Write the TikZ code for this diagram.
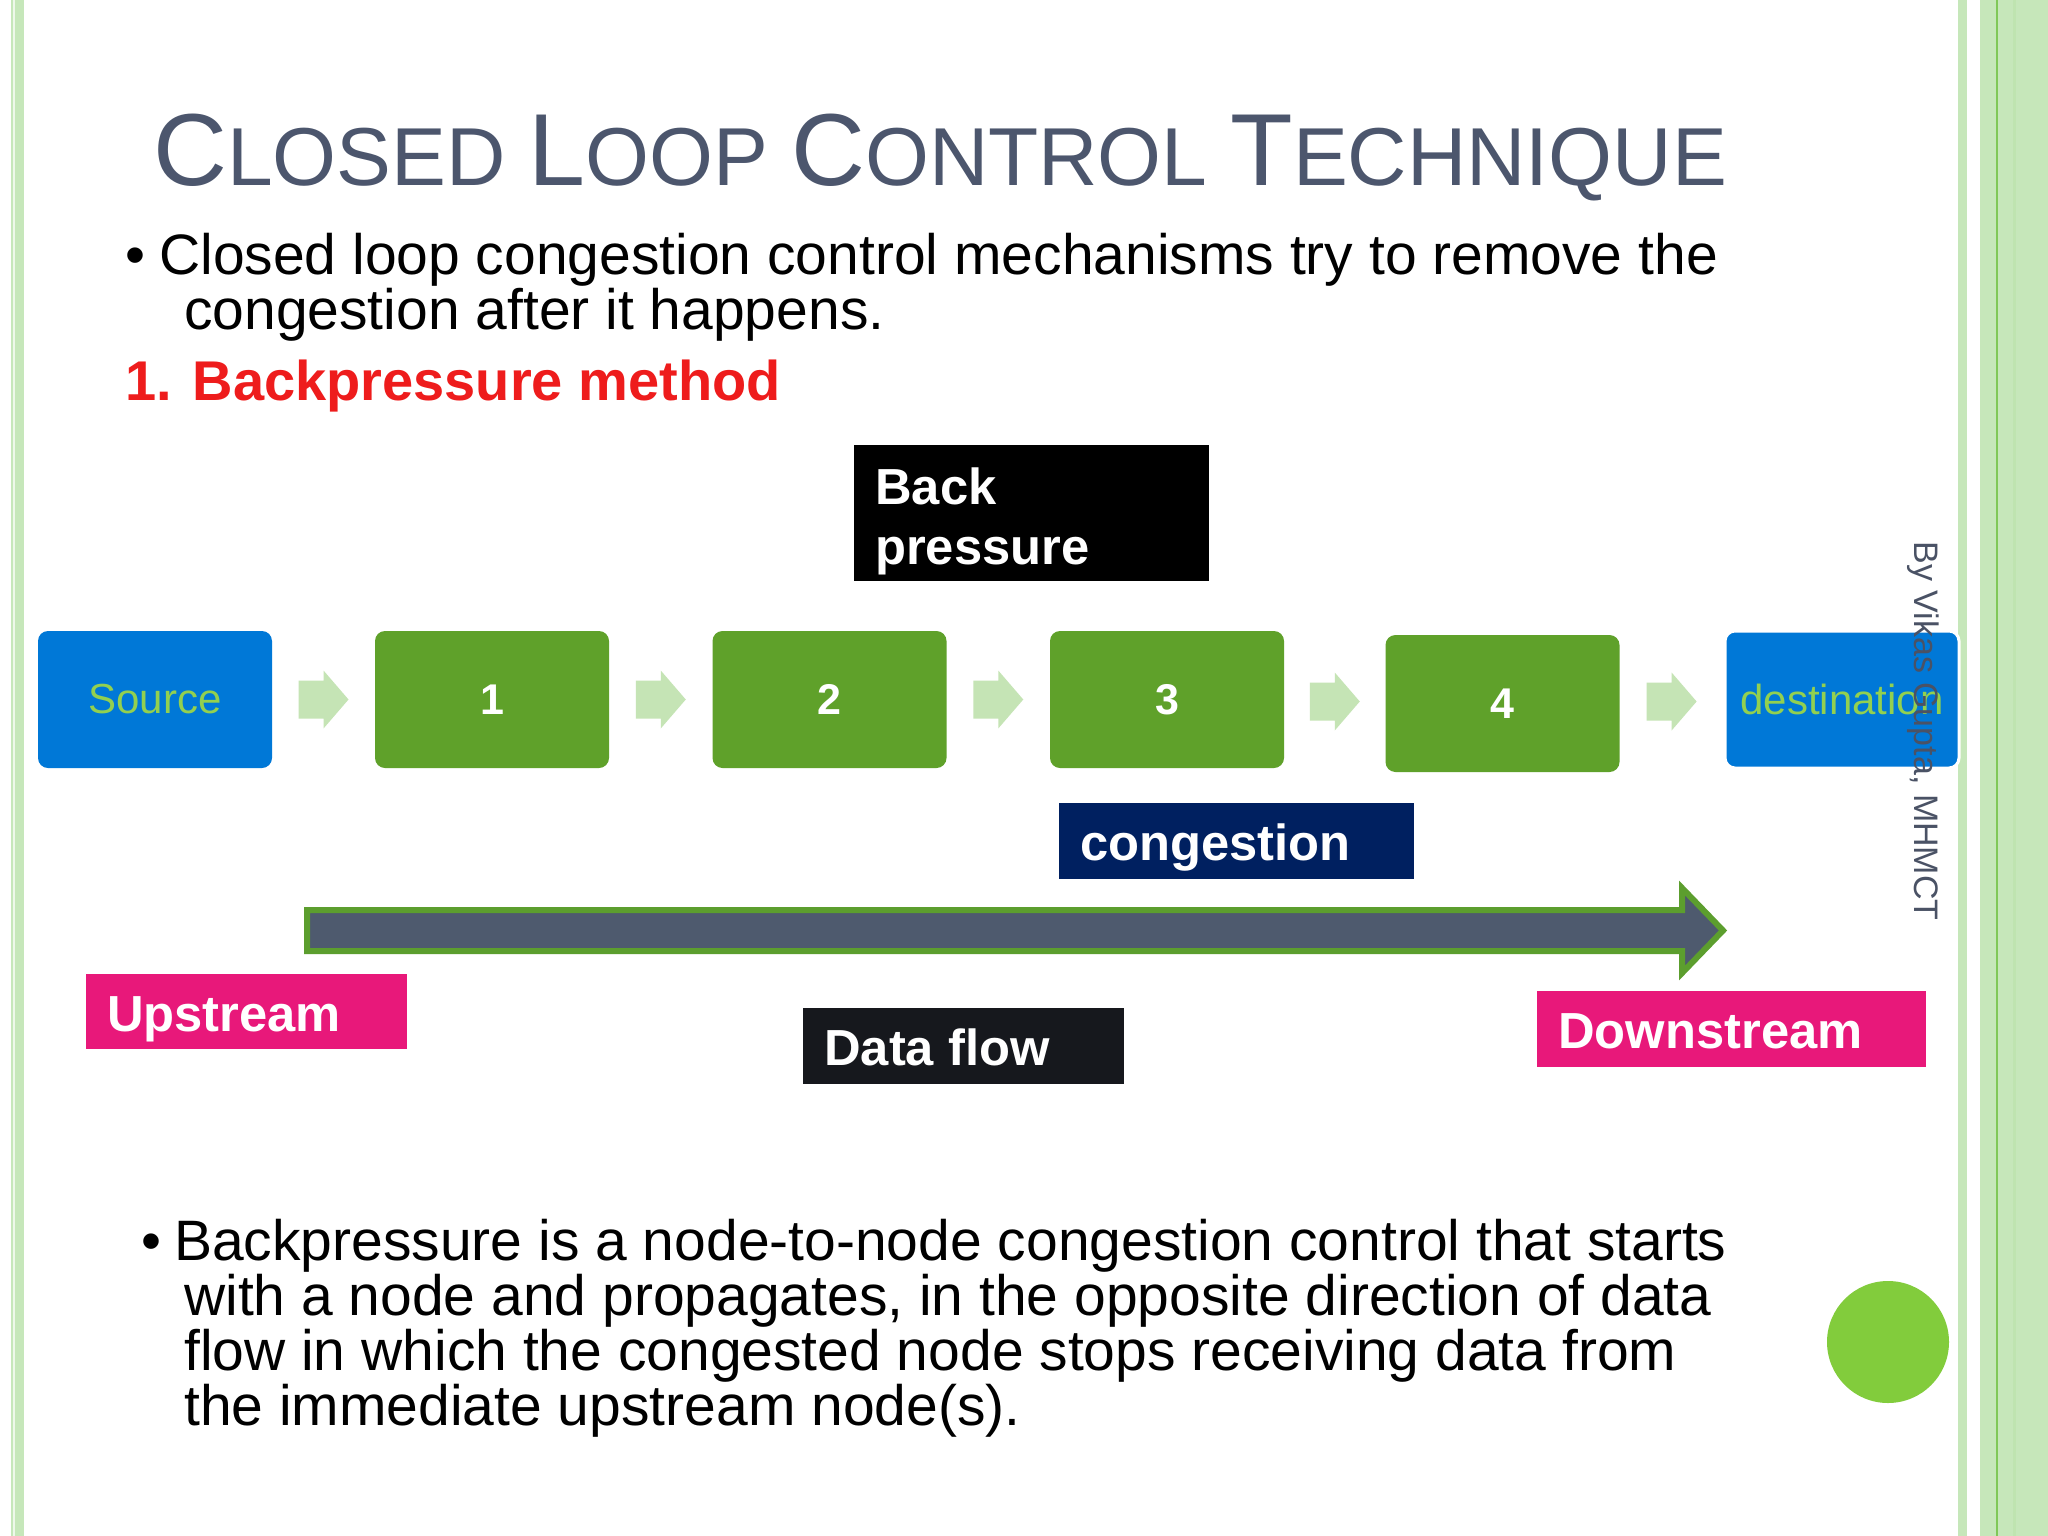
\documentclass[tikz,border=0pt]{standalone}
\usepackage{fontspec}
\setmainfont{Liberation Sans}
\usetikzlibrary{calc}
\definecolor{stripe}{HTML}{C6E7BA}
\definecolor{stripeline}{HTML}{80C858}
\definecolor{titlec}{HTML}{4C566D}
\definecolor{redc}{HTML}{EE1C1C}
\definecolor{bluec}{HTML}{0078D7}
\definecolor{srctext}{HTML}{92D050}
\definecolor{boxgreen}{HTML}{5FA12A}
\definecolor{arrowgreen}{HTML}{C5E4B5}
\definecolor{navyc}{HTML}{002060}
\definecolor{pinkc}{HTML}{E8187A}
\definecolor{dfbox}{HTML}{16181D}
\definecolor{bigfill}{HTML}{4E5A6E}
\definecolor{bigline}{HTML}{5C9E2E}
\definecolor{circc}{HTML}{82CC3C}
\definecolor{vertc}{HTML}{4A5265}
\newcommand{\ttlbig}{\fontsize{102.4}{102}\selectfont}
\newcommand{\ttlsm}{\fontsize{82.2}{82}\selectfont}
\begin{document}
\begin{tikzpicture}[x=1pt,y=-1pt,
  body/.style={font=\fontsize{57}{57}\selectfont, anchor=base west, inner sep=0pt, text=black},
  lbl/.style={font=\bfseries\fontsize{50.7}{50}\selectfont, anchor=base west, inner sep=0pt, text=white},
  flatbox/.style={anchor=north west, inner sep=0pt},
  endbox/.style={fill=bluec, rounded corners=10pt, minimum width=234pt, minimum height=137pt, inner sep=0pt, text=srctext, font=\fontsize{42}{42}\selectfont},
  numbox/.style={fill=boxgreen, rounded corners=10pt, minimum width=234pt, minimum height=137pt, inner sep=0pt, text=white, font=\bfseries\fontsize{43}{43}\selectfont},
  smallarrow/.style={fill=arrowgreen}
]
\useasboundingbox (0,0) rectangle (2048,1536);
\fill[white] (0,0) rectangle (2048,1536);
% borders
\fill[stripe] (11,0) rectangle (24,1536);
\fill[white!70!stripe] (13,0) rectangle (15,1536);
\fill[stripe] (1958,0) rectangle (1967,1536);
\fill[stripe] (1980,0) rectangle (2048,1536);
\fill[stripe!90!stripeline] (2013,0) rectangle (2016,1536);
\fill[stripeline] (1996,0) rectangle (1998,1536);
% title
\node[anchor=base west, inner sep=0pt, text=titlec] (title) at (153,185)
  {\ttlbig C\ttlsm LOSED \ttlbig L\ttlsm OOP \ttlbig C\ttlsm ONTROL \ttlbig T\ttlsm ECHNIQUE};
% first bullet
\node[body] (b1) at (125,274) {•};
\node[body] (l1) at (159,274) {Closed loop congestion control mechanisms try to remove the};
\node[body] (l2) at (184,329) {congestion after it happens.};
\node[anchor=base west, inner sep=0pt, text=redc, font=\bfseries\fontsize{56}{56}\selectfont] (m1) at (125,400) {1. Backpressure method};
% back pressure box
\node[flatbox, fill=black, minimum width=355pt, minimum height=136pt] (bp) at (854,445) {};
\node[lbl] (bpa) at (875,504) {Back};
\node[lbl] (bpb) at (875,564) {pressure};
% row of boxes
\node[endbox] (src) at (155,699.5) {Source};
\node[numbox] (n1) at (492,699.5) {1};
\node[numbox] (n2) at (829.5,699.5) {2};
\node[numbox] (n3) at (1167,699.5) {3};
\node[numbox] (n4) at (1502.5,703.5) {4};
\node[endbox, draw=white, line width=3pt] (dst) at (1842,699.5) {destination};
% small block arrows
\foreach \a/\b in {src/n1,n1/n2,n2/n3,n3/n4,n4/dst}{
  \fill[smallarrow, shift={($(\a.east)!0.5!(\b.west)$)}]
    (-25,-19) -- (0,-19) -- (0,-29) -- (25,0) -- (0,29) -- (0,19) -- (-25,19) -- cycle;
}
% congestion
\node[flatbox, fill=navyc, minimum width=355pt, minimum height=76pt] (cg) at (1059,803) {};
\node[lbl] (cgt) at (1080,860) {congestion};
% big arrow
\draw[fill=bigfill, draw=bigline, line width=6pt, line join=miter]
  (307,910) -- (1682,910) -- (1682,888) -- (1723,930.5) -- (1682,973) -- (1682,951) -- (307,951) -- cycle;
% upstream
\node[flatbox, fill=pinkc, minimum width=321pt, minimum height=75pt] (up) at (86,974) {};
\node[lbl] (upt) at (107,1031) {Upstream};
% data flow
\node[flatbox, fill=dfbox, minimum width=321pt, minimum height=76pt] (df) at (803,1008) {};
\node[lbl] (dft) at (824,1065) {Data flow};
% downstream
\node[flatbox, fill=pinkc, minimum width=389pt, minimum height=76pt] (dn) at (1537,991) {};
\node[lbl] (dnt) at (1558,1048) {Downstream};
% vertical credit
\node[rotate=-90, text=vertc, font=\fontsize{34}{34}\selectfont, inner sep=0pt] (credit) at (1923,731) {By Vikas Gupta, MHMCT};
% second bullet
\node[body] (b2) at (141,1260) {•};
\node[body] (p1) at (174,1260) {Backpressure is a node-to-node congestion control that starts};
\node[body] (p2) at (184,1315) {with a node and propagates, in the opposite direction of data};
\node[body] (p3) at (184,1370) {flow in which the congested node stops receiving data from};
\node[body] (p4) at (184,1425) {the immediate upstream node(s).};
% circle
\fill[circc] (1888,1342) circle (61);
\end{tikzpicture}
\end{document}
